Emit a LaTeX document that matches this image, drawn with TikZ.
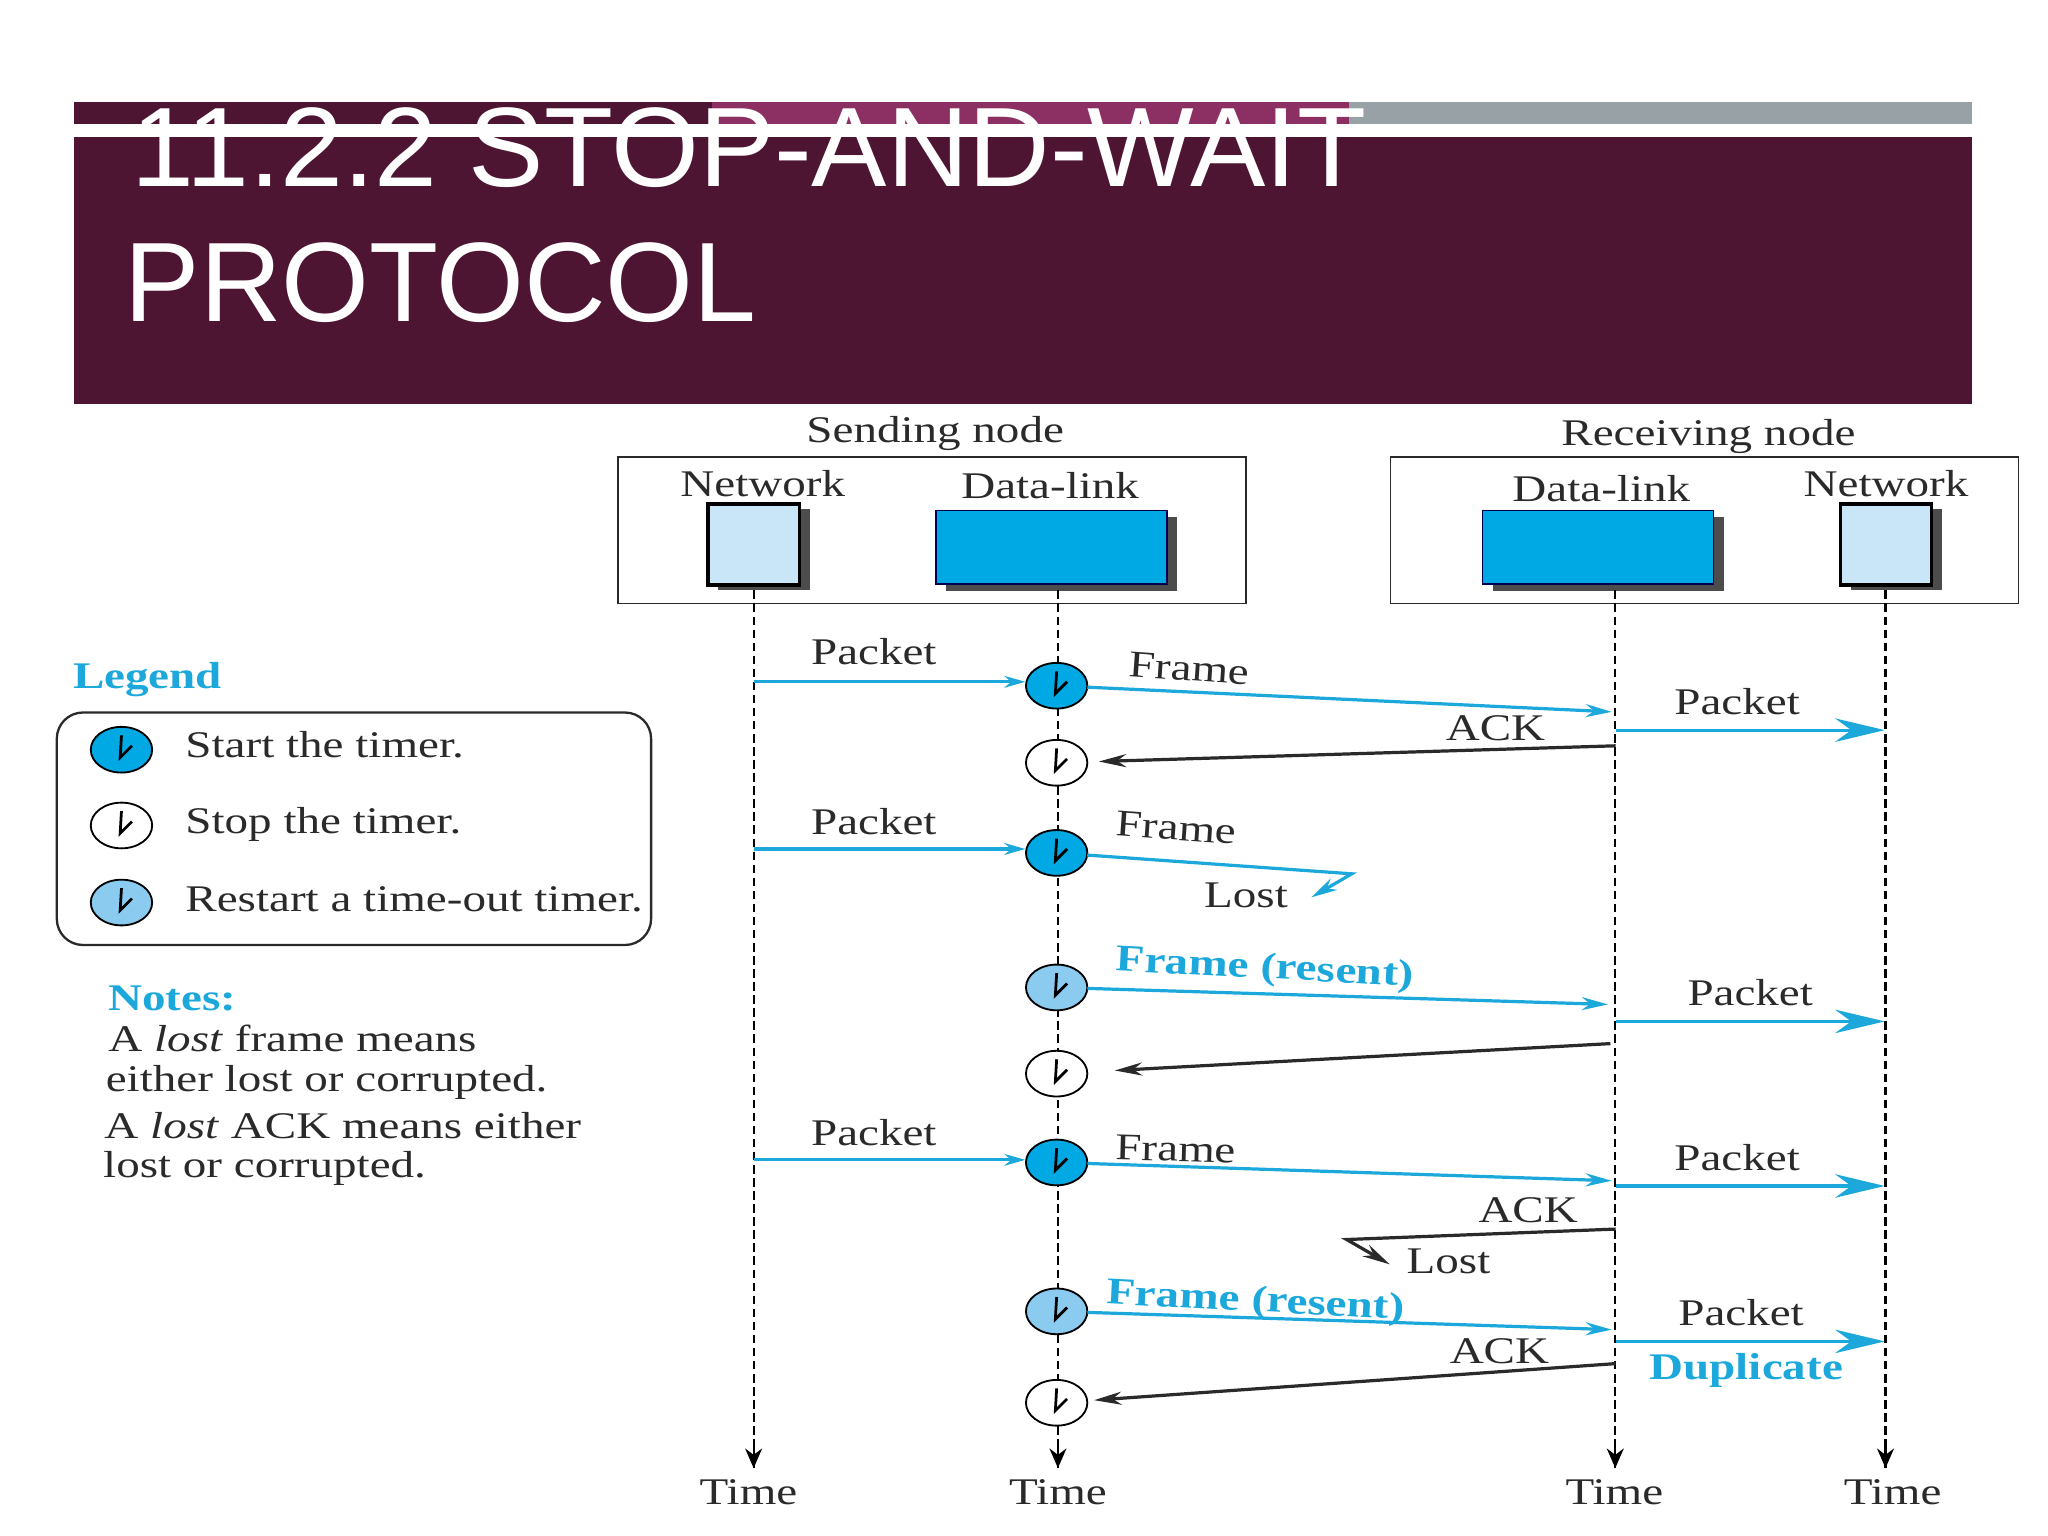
\documentclass[tikz,border=0pt]{standalone}
\usepackage{fontspec}
\setmainfont[FakeStretch=1.25]{Liberation Serif}
\newfontfamily\titlefont{Liberation Sans}
\usetikzlibrary{arrows.meta}
\usetikzlibrary{shapes.geometric}
\usetikzlibrary{shadows}

\definecolor{maroon}{HTML}{4E1533}
\definecolor{plum}{HTML}{8C2F62}
\definecolor{slate}{HTML}{98A1A6}
\definecolor{linkblue}{HTML}{1DA8DC}
\definecolor{dlblue}{HTML}{00A8E4}
\definecolor{netblue}{HTML}{C9E6F8}
\definecolor{restartblue}{HTML}{8CCBF0}
\definecolor{inkgray}{HTML}{2A2A2A}

\tikzset{
  every node/.style={inner sep=0pt, outer sep=0pt, text=inkgray,
    font=\fontsize{8.2}{10}\selectfont},
  lbl/.style={anchor=base},
  lblleft/.style={anchor=base west},
  bluelbl/.style={anchor=base, text=linkblue, font=\fontsize{8.2}{10}\selectfont\bfseries},
  bluelblleft/.style={bluelbl, anchor=base west},
  titletext/.style={anchor=base west, text=white, font=\fontsize{24.6}{29}\selectfont\titlefont},
  nodebox/.style={draw=inkgray, line width=0.35pt, minimum width=48.1mm, minimum height=11.2mm},
  netlayer/.style={draw=black, line width=0.75pt, fill=netblue, minimum width=7mm, minimum height=6.2mm,
    drop shadow={shadow xshift=0.8mm, shadow yshift=-0.4mm, fill=black!70, opacity=1}},
  dllayer/.style={draw=black!70!blue, line width=0.35pt, fill=dlblue, minimum width=17.7mm, minimum height=5.65mm,
    drop shadow={shadow xshift=0.8mm, shadow yshift=-0.5mm, fill=black!70, opacity=1}},
  clockface/.style={ellipse, draw=black, line width=0.4pt, minimum width=4.7mm, minimum height=3.5mm,
    path picture={\draw[line width=0.6pt, black]
      ([shift={(0,-11)}]path picture bounding box.center) --
      ([shift={(-1,6)}]path picture bounding box.center) --
      ([shift={(8,-3)}]path picture bounding box.center);}},
  starttimer/.style={clockface, fill=dlblue},
  stoptimer/.style={clockface, fill=white},
  restarttimer/.style={clockface, fill=restartblue},
  lane/.style={draw=black, line width=0.45pt, dash pattern=on 0.65mm off 0.35mm},
  lanetip/.style={-{Stealth[length=1.5mm, width=1.3mm]}, draw=black, line width=0.45pt},
  packetin/.style={draw=linkblue, line width=0.7pt, -{Stealth[length=1.6mm, width=0.9mm]}},
  framearrow/.style={draw=linkblue, line width=0.7pt, -{Stealth[length=2mm, width=1mm]}},
  packetout/.style={draw=linkblue, line width=0.7pt, -{Stealth[length=3.8mm, width=1.8mm]}},
  ackarrow/.style={draw=inkgray, line width=0.7pt, -{Stealth[length=2.1mm, width=1mm]}},
}

\begin{document}
\begin{tikzpicture}[x=0.1mm, y=-0.1mm]
  % picture size
  \useasboundingbox (0,0) rectangle (1568,1176);

  % The slide header
  \fill[maroon] (57,78) rectangle (545,95);
  \fill[plum] (545,78) rectangle (1033,95);
  \fill[slate] (1033,78) rectangle (1510,95);
  \fill[white] (57,95) rectangle (1510,105);
  \fill[maroon] (57,105) rectangle (1510,309);
  \node[titletext] (title1) at (101,142.5) {11.2.2 STOP-AND-WAIT};
  \node[titletext] (title2) at (95.5,246.5) {PROTOCOL};

  % The two stations
  \node[nodebox] (sender) at (713.5,406) {};
  \node[nodebox] (receiver) at (1305,406) {};
  \node[netlayer] (netA) at (577,417) {};
  \node[dllayer] (dlA) at (805,419) {};
  \node[dllayer] (dlB) at (1223.5,419) {};
  \node[netlayer] (netB) at (1444,417) {};

  % Station labels
  \foreach \name/\x/\y/\txt in {
      sendlbl/716/339/Sending node, recvlbl/1308/341/Receiving node,
      netlblA/584/380/Network, dllblA/804/382/Data-link,
      dllblB/1226/384/Data-link, netlblB/1444/380/Network}
    \node[lbl] (\name) at (\x,\y) {\txt};

  % Free ends of the connectors
  \foreach \name/\x/\y in {
      topA/577/452, topB/810/452, topC/1236.7/452, topD/1443.6/452,
      endA/577/1124, endB/810/1124, endC/1236.7/1124, endD/1443.6/1124,
      inA/577/522, inAtip/785/522, inB/577/650, inBtip/785/650, inC/577/888, inCtip/785/888,
      frA/1234/545, frBcorner/1035/669, frBtip/1004/687, frC/1231/769, frD/1234/904, frE/1234/1018,
      outA/1237/559, outAtip/1443/559, outB/1237/782, outBtip/1443/782,
      outC/1237/908, outCtip/1443/908, outD/1237/1027, outDtip/1443/1027,
      ackA/1237/571, ackB/1233/799, ackC/1237/941, ackCcorner/1031/949, ackCtip/1064/968, ackD/1237/1044}
    \coordinate (\name) at (\x,\y);

  % Time lines
  \foreach \lane in {A,B,C,D} {
    \draw[lane] (top\lane) -- (end\lane);
    \draw[lanetip] (end\lane) ++(0,-18) -- (end\lane);
  }

  % Timers on the sender's line
  \node[starttimer] (t1) at (809,525) {};
  \node[stoptimer] (t2) at (809,584) {};
  \node[starttimer] (t3) at (809,653) {};
  \node[restarttimer] (t4) at (809,756) {};
  \node[stoptimer] (t5) at (809,822) {};
  \node[starttimer] (t6) at (809,890) {};
  \node[restarttimer] (t7) at (809,1004) {};
  \node[stoptimer] (t8) at (809,1074) {};

  % Packets from the network layer
  \draw[packetin] (inA) -- (inAtip);
  \draw[packetin] (inB) -- (inBtip);
  \draw[packetin] (inC) -- (inCtip);

  % Frames
  \draw[framearrow] (t1) -- (frA);
  \draw[framearrow] (t3) -- (frBcorner) -- (frBtip);
  \draw[framearrow] (t4) -- (frC);
  \draw[framearrow] (t6) -- (frD);
  \draw[framearrow] (t7) -- (frE);

  % Packets handed to the network layer
  \draw[packetout] (outA) -- (outAtip);
  \draw[packetout] (outB) -- (outBtip);
  \draw[packetout] (outC) -- (outCtip);
  \draw[packetout] (outD) -- (outDtip);

  % ACKs
  \draw[ackarrow, shorten >=2.5pt] (ackA) -- (t2);
  \draw[ackarrow, shorten >=6pt] (ackB) -- (t5);
  \draw[ackarrow] (ackC) -- (ackCcorner) -- (ackCtip);
  \draw[ackarrow, shorten >=1.5pt] (ackD) -- (t8);

  % Labels on the arrows
  \foreach \name/\x/\y/\txt in {
      pkA/669/509/Packet, pkB/669/639/Packet, pkC/669/877/Packet,
      pkD/1330/547/Packet, pkE/1340/770/Packet, pkF/1330/896/Packet, pkG/1333/1015/Packet,
      ackl1/1145/567/ACK, ackl2/1170/936/ACK, ackl3/1148/1044/ACK,
      lostA/954/695/Lost, lostB/1109/975/Lost,
      timeA/573/1152/Time, timeB/810/1152/Time, timeC/1236/1152/Time, timeD/1449/1152/Time}
    \node[lbl] (\name) at (\x,\y) {\txt};
  \node[lbl, rotate=-4] (frlA) at (910,521) {Frame};
  \node[lbl, rotate=-4] (frlB) at (900,643) {Frame};
  \node[lbl, rotate=-1.5] (frlC) at (900,889) {Frame};
  \node[bluelbl, rotate=-3] (frlD) at (968,749) {Frame (resent)};
  \node[bluelbl, rotate=-3] (frlE) at (961,1004) {Frame (resent)};
  \node[bluelbl] (dup) at (1337,1056) {Duplicate};

  % Legend
  \node[bluelblleft] (legendhead) at (56,527) {Legend};
  \node[draw=inkgray, line width=0.5pt, rounded corners=2mm, minimum width=45.5mm, minimum height=17.8mm]
    (legendbox) at (271,634.5) {};
  \node[starttimer] (legA) at (93,574) {};
  \node[stoptimer] (legB) at (93,632) {};
  \node[restarttimer] (legC) at (93,691) {};
  \node[lblleft] (legtxtA) at (142,580) {Start the timer.};
  \node[lblleft] (legtxtB) at (142,638.5) {Stop the timer.};
  \node[lblleft] (legtxtC) at (142,698) {Restart a time-out timer.};

  % Notes
  \node[bluelblleft] (noteshead) at (83,774) {Notes:};
  \node[lblleft] (noteA) at (83,805) {A \textit{lost} frame means};
  \node[lblleft] (noteB) at (81,836) {either lost or corrupted.};
  \node[lblleft] (noteC) at (80,871.5) {A \textit{lost} ACK means either};
  \node[lblleft] (noteD) at (79,901.5) {lost or corrupted.};
\end{tikzpicture}
\end{document}
